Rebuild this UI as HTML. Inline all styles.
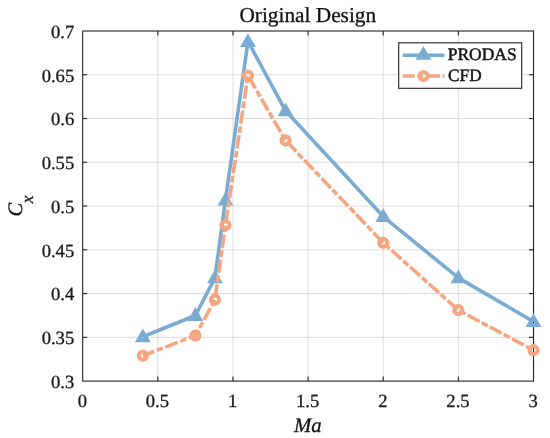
<!DOCTYPE html>
<html lang="en"><head><meta charset="utf-8"><title>Original Design</title>
<style>html,body{margin:0;padding:0;background:#fff}body{width:550px;height:438px;overflow:hidden}svg text{text-rendering:geometricPrecision;stroke:#111;stroke-width:0.3px}</style>
</head><body>
<svg width="550" height="438" viewBox="0 0 550 438" style="display:block">
<rect width="550" height="438" fill="#fff"/>
<line x1="157.83" y1="31.0" x2="157.83" y2="381.1" stroke="#d3d3d3" stroke-width="0.8"/>
<line x1="232.97" y1="31.0" x2="232.97" y2="381.1" stroke="#d3d3d3" stroke-width="0.8"/>
<line x1="308.10" y1="31.0" x2="308.10" y2="381.1" stroke="#d3d3d3" stroke-width="0.8"/>
<line x1="383.23" y1="31.0" x2="383.23" y2="381.1" stroke="#d3d3d3" stroke-width="0.8"/>
<line x1="458.37" y1="31.0" x2="458.37" y2="381.1" stroke="#d3d3d3" stroke-width="0.8"/>
<line x1="82.7" y1="337.34" x2="533.5" y2="337.34" stroke="#d3d3d3" stroke-width="0.8"/>
<line x1="82.7" y1="293.57" x2="533.5" y2="293.57" stroke="#d3d3d3" stroke-width="0.8"/>
<line x1="82.7" y1="249.81" x2="533.5" y2="249.81" stroke="#d3d3d3" stroke-width="0.8"/>
<line x1="82.7" y1="206.05" x2="533.5" y2="206.05" stroke="#d3d3d3" stroke-width="0.8"/>
<line x1="82.7" y1="162.29" x2="533.5" y2="162.29" stroke="#d3d3d3" stroke-width="0.8"/>
<line x1="82.7" y1="118.53" x2="533.5" y2="118.53" stroke="#d3d3d3" stroke-width="0.8"/>
<line x1="82.7" y1="74.76" x2="533.5" y2="74.76" stroke="#d3d3d3" stroke-width="0.8"/>
<rect x="82.7" y="31.0" width="450.80" height="350.10" fill="none" stroke="#222222" stroke-width="1.1"/>
<line x1="157.83" y1="381.1" x2="157.83" y2="376.6" stroke="#222222" stroke-width="1.1"/>
<line x1="157.83" y1="31.0" x2="157.83" y2="35.5" stroke="#222222" stroke-width="1.1"/>
<line x1="232.97" y1="381.1" x2="232.97" y2="376.6" stroke="#222222" stroke-width="1.1"/>
<line x1="232.97" y1="31.0" x2="232.97" y2="35.5" stroke="#222222" stroke-width="1.1"/>
<line x1="308.10" y1="381.1" x2="308.10" y2="376.6" stroke="#222222" stroke-width="1.1"/>
<line x1="308.10" y1="31.0" x2="308.10" y2="35.5" stroke="#222222" stroke-width="1.1"/>
<line x1="383.23" y1="381.1" x2="383.23" y2="376.6" stroke="#222222" stroke-width="1.1"/>
<line x1="383.23" y1="31.0" x2="383.23" y2="35.5" stroke="#222222" stroke-width="1.1"/>
<line x1="458.37" y1="381.1" x2="458.37" y2="376.6" stroke="#222222" stroke-width="1.1"/>
<line x1="458.37" y1="31.0" x2="458.37" y2="35.5" stroke="#222222" stroke-width="1.1"/>
<line x1="82.7" y1="337.34" x2="87.2" y2="337.34" stroke="#222222" stroke-width="1.1"/>
<line x1="533.5" y1="337.34" x2="529.0" y2="337.34" stroke="#222222" stroke-width="1.1"/>
<line x1="82.7" y1="293.57" x2="87.2" y2="293.57" stroke="#222222" stroke-width="1.1"/>
<line x1="533.5" y1="293.57" x2="529.0" y2="293.57" stroke="#222222" stroke-width="1.1"/>
<line x1="82.7" y1="249.81" x2="87.2" y2="249.81" stroke="#222222" stroke-width="1.1"/>
<line x1="533.5" y1="249.81" x2="529.0" y2="249.81" stroke="#222222" stroke-width="1.1"/>
<line x1="82.7" y1="206.05" x2="87.2" y2="206.05" stroke="#222222" stroke-width="1.1"/>
<line x1="533.5" y1="206.05" x2="529.0" y2="206.05" stroke="#222222" stroke-width="1.1"/>
<line x1="82.7" y1="162.29" x2="87.2" y2="162.29" stroke="#222222" stroke-width="1.1"/>
<line x1="533.5" y1="162.29" x2="529.0" y2="162.29" stroke="#222222" stroke-width="1.1"/>
<line x1="82.7" y1="118.53" x2="87.2" y2="118.53" stroke="#222222" stroke-width="1.1"/>
<line x1="533.5" y1="118.53" x2="529.0" y2="118.53" stroke="#222222" stroke-width="1.1"/>
<line x1="82.7" y1="74.76" x2="87.2" y2="74.76" stroke="#222222" stroke-width="1.1"/>
<line x1="533.5" y1="74.76" x2="529.0" y2="74.76" stroke="#222222" stroke-width="1.1"/>
<defs><clipPath id="axclip"><rect x="82.7" y="31.0" width="450.80" height="350.10"/></clipPath></defs>
<polyline clip-path="url(#axclip)" points="142.81,336.72 195.40,315.46 214.93,277.82 225.45,199.92 247.99,41.50 285.56,110.82 383.23,216.55 458.37,277.82 533.50,321.58" fill="none" stroke="#7aabd3" stroke-width="3.6" stroke-linejoin="round"/>
<polygon points="142.81,332.49 138.36,340.19 147.26,340.19" fill="none" stroke="#7aabd3" stroke-width="4.0" stroke-linejoin="miter"/>
<polygon points="195.40,311.22 190.95,318.92 199.85,318.92" fill="none" stroke="#7aabd3" stroke-width="4.0" stroke-linejoin="miter"/>
<polygon points="214.93,273.59 210.48,281.29 219.38,281.29" fill="none" stroke="#7aabd3" stroke-width="4.0" stroke-linejoin="miter"/>
<polygon points="225.45,195.69 221.00,203.39 229.90,203.39" fill="none" stroke="#7aabd3" stroke-width="4.0" stroke-linejoin="miter"/>
<polygon points="247.99,37.27 243.54,44.97 252.44,44.97" fill="none" stroke="#7aabd3" stroke-width="4.0" stroke-linejoin="miter"/>
<polygon points="285.56,106.59 281.11,114.29 290.01,114.29" fill="none" stroke="#7aabd3" stroke-width="4.0" stroke-linejoin="miter"/>
<polygon points="383.23,212.32 378.78,220.02 387.68,220.02" fill="none" stroke="#7aabd3" stroke-width="4.0" stroke-linejoin="miter"/>
<polygon points="458.37,273.59 453.92,281.29 462.82,281.29" fill="none" stroke="#7aabd3" stroke-width="4.0" stroke-linejoin="miter"/>
<polygon points="533.50,317.35 529.05,325.05 537.95,325.05" fill="none" stroke="#7aabd3" stroke-width="4.0" stroke-linejoin="miter"/>
<polyline clip-path="url(#axclip)" points="142.81,355.72 195.40,335.59 214.93,299.70 225.45,225.31 247.99,75.64 285.56,140.41 383.23,242.81 458.37,310.20 533.50,350.20" fill="none" stroke="#f4a582" stroke-width="3.6" stroke-dasharray="13.4,2.5,6.7,2.5" stroke-dashoffset="1.05" stroke-linejoin="round"/>
<circle cx="142.81" cy="355.72" r="4.1" fill="none" stroke="#f4a582" stroke-width="4.0"/>
<circle cx="195.40" cy="335.59" r="4.1" fill="none" stroke="#f4a582" stroke-width="4.0"/>
<circle cx="214.93" cy="299.70" r="4.1" fill="none" stroke="#f4a582" stroke-width="4.0"/>
<circle cx="225.45" cy="225.31" r="4.1" fill="none" stroke="#f4a582" stroke-width="4.0"/>
<circle cx="247.99" cy="75.64" r="4.1" fill="none" stroke="#f4a582" stroke-width="4.0"/>
<circle cx="285.56" cy="140.41" r="4.1" fill="none" stroke="#f4a582" stroke-width="4.0"/>
<circle cx="383.23" cy="242.81" r="4.1" fill="none" stroke="#f4a582" stroke-width="4.0"/>
<circle cx="458.37" cy="310.20" r="4.1" fill="none" stroke="#f4a582" stroke-width="4.0"/>
<circle cx="533.50" cy="350.20" r="4.1" fill="none" stroke="#f4a582" stroke-width="4.0"/>
<text x="82.30" y="406.6" font-family="Liberation Serif, Times New Roman, serif" font-size="18.6" text-anchor="middle" fill="#1a1a1a">0</text>
<text x="157.43" y="406.6" font-family="Liberation Serif, Times New Roman, serif" font-size="18.6" text-anchor="middle" fill="#1a1a1a">0.5</text>
<text x="232.57" y="406.6" font-family="Liberation Serif, Times New Roman, serif" font-size="18.6" text-anchor="middle" fill="#1a1a1a">1</text>
<text x="307.70" y="406.6" font-family="Liberation Serif, Times New Roman, serif" font-size="18.6" text-anchor="middle" fill="#1a1a1a">1.5</text>
<text x="382.83" y="406.6" font-family="Liberation Serif, Times New Roman, serif" font-size="18.6" text-anchor="middle" fill="#1a1a1a">2</text>
<text x="457.97" y="406.6" font-family="Liberation Serif, Times New Roman, serif" font-size="18.6" text-anchor="middle" fill="#1a1a1a">2.5</text>
<text x="533.10" y="406.6" font-family="Liberation Serif, Times New Roman, serif" font-size="18.6" text-anchor="middle" fill="#1a1a1a">3</text>
<text x="74.2" y="387.90" font-family="Liberation Serif, Times New Roman, serif" font-size="18.6" text-anchor="end" fill="#1a1a1a">0.3</text>
<text x="74.2" y="344.14" font-family="Liberation Serif, Times New Roman, serif" font-size="18.6" text-anchor="end" fill="#1a1a1a">0.35</text>
<text x="74.2" y="300.38" font-family="Liberation Serif, Times New Roman, serif" font-size="18.6" text-anchor="end" fill="#1a1a1a">0.4</text>
<text x="74.2" y="256.61" font-family="Liberation Serif, Times New Roman, serif" font-size="18.6" text-anchor="end" fill="#1a1a1a">0.45</text>
<text x="74.2" y="212.85" font-family="Liberation Serif, Times New Roman, serif" font-size="18.6" text-anchor="end" fill="#1a1a1a">0.5</text>
<text x="74.2" y="169.09" font-family="Liberation Serif, Times New Roman, serif" font-size="18.6" text-anchor="end" fill="#1a1a1a">0.55</text>
<text x="74.2" y="125.33" font-family="Liberation Serif, Times New Roman, serif" font-size="18.6" text-anchor="end" fill="#1a1a1a">0.6</text>
<text x="74.2" y="81.56" font-family="Liberation Serif, Times New Roman, serif" font-size="18.6" text-anchor="end" fill="#1a1a1a">0.65</text>
<text x="74.2" y="37.80" font-family="Liberation Serif, Times New Roman, serif" font-size="18.6" text-anchor="end" fill="#1a1a1a">0.7</text>
<text x="307.8" y="21.6" font-family="Liberation Serif, Times New Roman, serif" font-size="21.3" text-anchor="middle" fill="#111">Original Design</text>
<text x="307.8" y="432.2" font-family="Liberation Serif, Times New Roman, serif" font-size="20.8" font-style="italic" text-anchor="middle" fill="#111">Ma</text>
<text transform="translate(21.9,216.4) rotate(-90)" font-family="Liberation Serif, Times New Roman, serif" font-size="20.5" font-style="italic" fill="#111">C<tspan font-size="17.5" dy="11" dx="-0.5">x</tspan></text>
<rect x="398.7" y="42.8" width="123.00" height="45.50" fill="#fff" stroke="#222222" stroke-width="1.1"/>
<line x1="402.6" y1="55.2" x2="444.5" y2="55.2" stroke="#7aabd3" stroke-width="3.6"/>
<polygon points="423.40,50.07 418.95,57.77 427.85,57.77" fill="none" stroke="#7aabd3" stroke-width="4.0" stroke-linejoin="miter"/>
<line x1="402.6" y1="76.0" x2="444.5" y2="76.0" stroke="#f4a582" stroke-width="3.6" stroke-dasharray="12.2,2.5,6,3.3,13.4,2.5,6.7,2.5"/>
<circle cx="423.50" cy="76.00" r="4.1" fill="none" stroke="#f4a582" stroke-width="4.0"/>
<text x="447.7" y="60.2" font-family="Liberation Serif, Times New Roman, serif" font-size="17.5" fill="#111" style="stroke-width:0.45px">PRODAS</text>
<text x="448.0" y="81.0" font-family="Liberation Serif, Times New Roman, serif" font-size="17.3" fill="#111" style="stroke-width:0.45px">CFD</text>
</svg>
</body></html>
